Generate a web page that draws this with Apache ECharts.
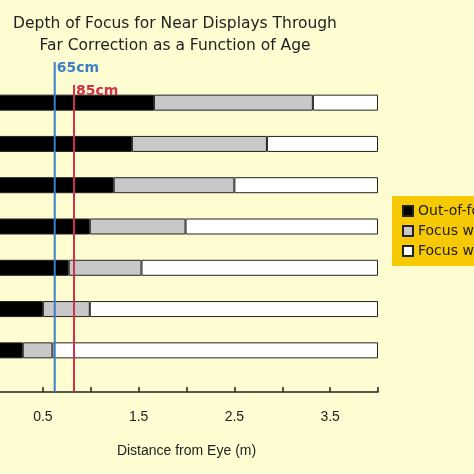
<!DOCTYPE html><html><head><meta charset="utf-8"><script src="https://cdn.jsdelivr.net/npm/echarts@6/dist/echarts.min.js"></script></head><body style="margin:0;background:#fefdd2;overflow:hidden"><div id="c" style="position:absolute;left:-8px;top:0;width:482px;height:474px"></div><script>
const categories=['A1','A2','A3','A4','A5','A6','A7'];
const outEnd=[1.66,1.43,1.24,0.99,0.77,0.50,0.29];
const withEnd=[3.32,2.84,2.50,1.99,1.53,0.99,0.60];
const maxDist=4.0;
const ticks=[0.5,1.5,2.5,3.5];
const markers=[{name:'65cm',x:0.65,top:1.0,color:'#3a7fc8'},{name:'85cm',x:0.85,top:0.93,color:'#d0304a'}];
const gray=withEnd.map((v,i)=>+(v-outEnd[i]).toFixed(2));
const white=withEnd.map(v=>+(maxDist-v).toFixed(2));
const ch=echarts.init(document.getElementById('c'));
const bs={type:'bar',stack:'s',barWidth:16,xAxisIndex:0,yAxisIndex:0};
ch.setOption({backgroundColor:'#fefdd2',animation:false,
title:{text:'Depth of Focus for Near Displays Through\nFar Correction as a Function of Age',left:178,textAlign:'center',top:8,textStyle:{fontFamily:'DejaVu Sans',fontWeight:'normal',fontSize:15.5,lineHeight:22,color:'#222'}},
legend:{left:400,top:196,orient:'vertical',backgroundColor:'#f7c900',padding:[8,10,8,10],itemGap:6,itemWidth:10,itemHeight:10,icon:'rect',textStyle:{fontSize:14,color:'#222',fontFamily:'DejaVu Sans'},data:['Out-of-focus','Focus with accommodation','Focus without accommodation']},
grid:[{left:0,right:96,top:82,height:289},{left:0,right:96,top:62,bottom:82}],
xAxis:[{type:'value',min:0,max:4,interval:0.5,offset:21,axisLine:{show:true,lineStyle:{color:'#222',width:1.5}},axisTick:{show:true,inside:true,length:5,lineStyle:{color:'#222',width:1.5}},splitLine:{show:false},axisLabel:{margin:18,fontSize:14,color:'#222',formatter:v=>ticks.includes(v)?String(v):''},name:'Distance from Eye (m)',nameLocation:'middle',nameGap:52,nameTextStyle:{fontSize:14,color:'#222'}},
{type:'value',gridIndex:1,min:0,max:4,show:false}],
yAxis:[{type:'category',data:categories,inverse:true,show:false},{type:'value',gridIndex:1,min:0,max:1,show:false}],
series:[
{...bs,name:'Out-of-focus',data:outEnd,itemStyle:{color:'#000',borderColor:'#222',borderWidth:1}},
{...bs,name:'Focus with accommodation',data:gray,itemStyle:{color:'#c8c8c8',borderColor:'#222',borderWidth:1}},
{...bs,name:'Focus without accommodation',data:white,itemStyle:{color:'#fff',borderColor:'#222',borderWidth:1}},
...markers.map(m=>({type:'line',xAxisIndex:1,yAxisIndex:1,symbol:'none',data:[[m.x,0],[m.x,m.top]],lineStyle:{color:m.color,width:2},
markPoint:{symbol:'circle',symbolSize:0,data:[{coord:[m.x,m.top]}],label:{show:true,position:'right',distance:2,offset:[0,6],formatter:m.name,color:m.color,fontWeight:'bold',fontSize:14,fontFamily:'DejaVu Sans'}}}))
]});
</script></body></html>
